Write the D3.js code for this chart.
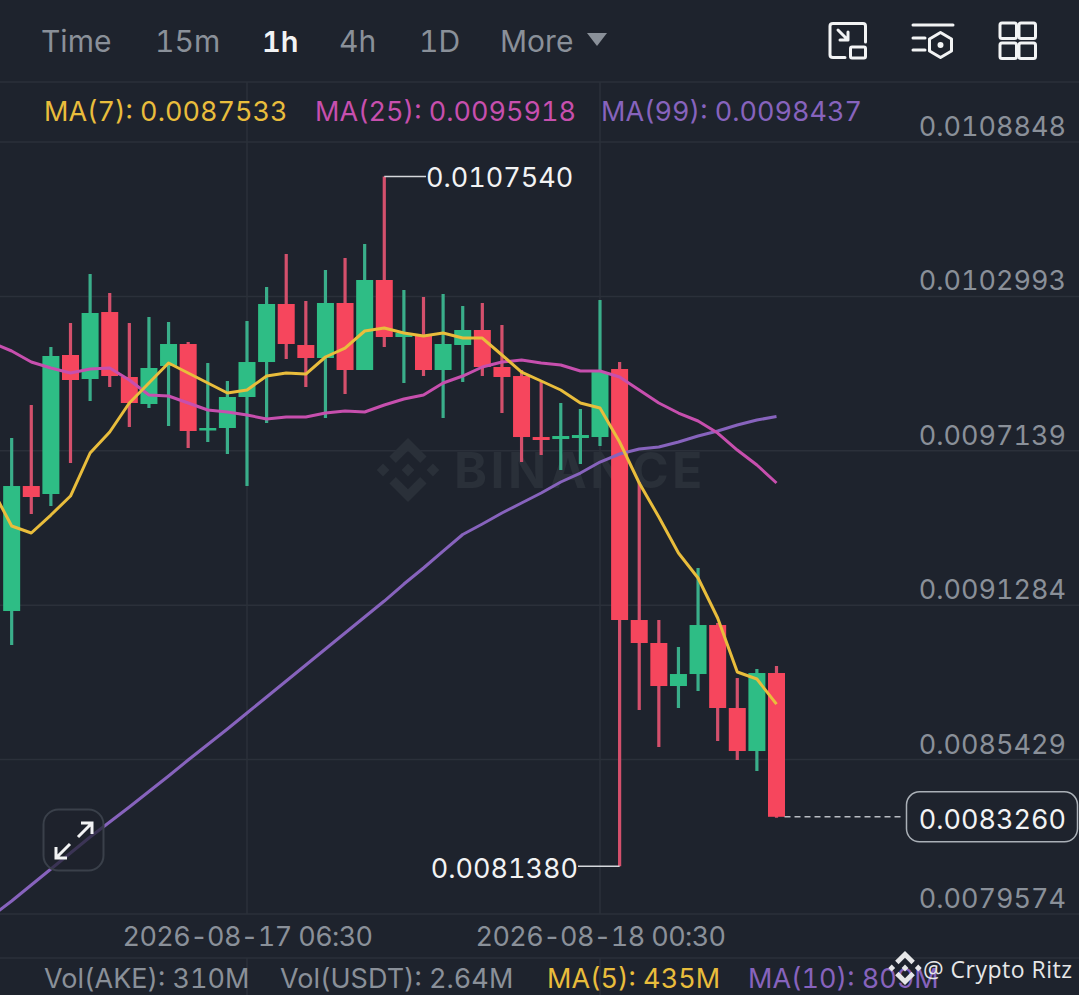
<!DOCTYPE html>
<html>
<head>
<meta charset="utf-8">
<script src="https://cdn.jsdelivr.net/npm/d3@7"></script>
<style>
  html, body { margin: 0; padding: 0; background: #1e232d; overflow: hidden; }
  svg { display: block; font-family: Inter, "Noto Sans", sans-serif; font-variant-numeric: tabular-nums; font-feature-settings: "tnum"; }
  .axis path, .axis line { display: none; }
  .axis text { fill: #8a9099; font-family: Inter, "Noto Sans", sans-serif; font-size: 27px; }
</style>
</head>
<body>
<svg id="chart" width="1079" height="995"></svg>
<script>
// candles, one per hour, first one opens at 2026-08-16 18:30
const firstCandle = "2026-08-16 18:30"
const opens = [0.0091063, 0.0095803, 0.0095500, 0.0100771, 0.0099861, 0.0102401, 0.0099937, 0.0098913, 0.0100354, 0.0101188,
  0.0097927, 0.0098003, 0.0099178, 0.0100505, 0.0102705, 0.0101150, 0.0100657, 0.0102743, 0.0100202, 0.0103615,
  0.0101453, 0.0101491, 0.0100202, 0.0101150, 0.0101719, 0.0100316, 0.0099974, 0.0097661, 0.0097585, 0.0097623,
  0.0097661, 0.0100240, 0.0090722, 0.0089850, 0.0088219, 0.0088674, 0.0090532, 0.0087385, 0.0085754, 0.0088712]
const highs = [0.0097623, 0.0098875, 0.0101074, 0.0101984, 0.0103842, 0.0103122, 0.0101984, 0.0102212, 0.0102022, 0.0101264,
  0.0100467, 0.0099785, 0.0102060, 0.0103349, 0.0104601, 0.0102819, 0.0103994, 0.0104449, 0.0104980, 0.0107540,
  0.0103236, 0.0102970, 0.0103084, 0.0102629, 0.0102743, 0.0101908, 0.0100202, 0.0099747, 0.0098951, 0.0098723,
  0.0102856, 0.0100505, 0.0095955, 0.0090722, 0.0089698, 0.0092694, 0.0090608, 0.0088522, 0.0088864, 0.0088977]
const lows = [0.0089774, 0.0094741, 0.0095045, 0.0096675, 0.0099026, 0.0099557, 0.0098041, 0.0098761, 0.0098078, 0.0097244,
  0.0097472, 0.0097017, 0.0095803, 0.0098192, 0.0100619, 0.0099557, 0.0098382, 0.0099292, 0.0100202, 0.0101074,
  0.0099709, 0.0099974, 0.0098382, 0.0099747, 0.0099974, 0.0098571, 0.0096713, 0.0096979, 0.0096410, 0.0096637,
  0.0097320, 0.0081380, 0.0087309, 0.0085906, 0.0087385, 0.0088029, 0.0086133, 0.0085413, 0.0084996, 0.0083222]
const closes = [0.0095803, 0.0095386, 0.0100733, 0.0099823, 0.0102364, 0.0099974, 0.0098951, 0.0100278, 0.0101188, 0.0097889,
  0.0098003, 0.0099178, 0.0100505, 0.0102705, 0.0101188, 0.0100657, 0.0102743, 0.0100202, 0.0103615, 0.0101453,
  0.0101605, 0.0100202, 0.0101188, 0.0101719, 0.0100316, 0.0099937, 0.0097661, 0.0097548, 0.0097699, 0.0097737,
  0.0100126, 0.0090722, 0.0089850, 0.0088219, 0.0088674, 0.0090532, 0.0087385, 0.0085754, 0.0088712, 0.0083260]

// moving averages, these start one candle earlier (just off the left edge)
const ma7 = [0.0095689, 0.0094286, 0.0094021, 0.0094703, 0.0095424, 0.0097055, 0.0097851, 0.0098951, 0.0099709, 0.0100467, 0.0100088,
  0.0099709, 0.0099330, 0.0099444, 0.0099974, 0.0100088, 0.0100050, 0.0100695, 0.0101036, 0.0101681, 0.0101795,
  0.0101605, 0.0101491, 0.0101605, 0.0101415, 0.0101415, 0.0100771, 0.0100126, 0.0099785, 0.0099444, 0.0098951,
  0.0098761, 0.0097472, 0.0095917, 0.0094628, 0.0093262, 0.0092314, 0.0090798, 0.0088750, 0.0088484, 0.0087533]
const ma25 = [0.0101226, 0.0100923, 0.0100505, 0.0100278, 0.0100088, 0.0100240, 0.0100278, 0.0099823, 0.0099254, 0.0099216, 0.0098951,
  0.0098685, 0.0098609, 0.0098496, 0.0098344, 0.0098420, 0.0098420, 0.0098571, 0.0098647, 0.0098609, 0.0098875,
  0.0099102, 0.0099254, 0.0099709, 0.0099974, 0.0100316, 0.0100505, 0.0100581, 0.0100467, 0.0100392, 0.0100164,
  0.0100164, 0.0099937, 0.0099444, 0.0098951, 0.0098571, 0.0098268, 0.0097813, 0.0097168, 0.0096600, 0.0095918]
const ma99 = [0.0079497, 0.0080066, 0.0080673, 0.0081279, 0.0081886, 0.0082493, 0.0083062, 0.0083631, 0.0084218, 0.0084806, 0.0085413,
  0.0086001, 0.0086588, 0.0087195, 0.0087802, 0.0088409, 0.0089015, 0.0089622, 0.0090229, 0.0090836, 0.0091442,
  0.0092087, 0.0092694, 0.0093338, 0.0093964, 0.0094362, 0.0094779, 0.0095159, 0.0095538, 0.0095955, 0.0096296,
  0.0096713, 0.0097017, 0.0097206, 0.0097282, 0.0097472, 0.0097699, 0.0097889, 0.0098116, 0.0098306, 0.0098437]

const priceTicks = [0.0108848, 0.0102993, 0.0097139, 0.0091284, 0.0085429, 0.0079574]
const timeTicks = ["2026-08-17 06:30", "2026-08-18 00:30"]
const highMark = 0.0107540
const lowMark = 0.0081380
const lastPrice = 0.0083260

const tabLabels = ["Time", "15m", "1h", "4h", "1D", "More"]
const activeTab = "1h"
const maLabels = ["MA(7): 0.0087533", "MA(25): 0.0095918", "MA(99): 0.0098437"]
const volLabels = ["Vol(AKE): 310M", "Vol(USDT): 2.64M", "MA(5): 435M", "MA(10): 809M"]

// layout
const width = 1079
const height = 995
const headerLine = 82
const plotBottom = 914
const footerLine = 958
const tabLeft = [41, 155, 262, 339, 419, 500]
const maLeft = [44, 315, 601]
const volLeft = [44, 280, 547, 748]
const bodyWidth = 17

const colors = {
  grid: '#2b303a', up: '#2ebd85', down: '#f6465d', upWick: '#3aae8a', downWick: '#d4506c',
  yellow: '#e9bd3c', pink: '#c74fae', purple: '#8763bd', muted: '#8a9099', white: '#f2f3f4'
}

const parseTime = d3.timeParse("%Y-%m-%d %H:%M")
const start = parseTime(firstCandle)
const candleTime = i => d3.timeHour.offset(start, i)

const x = d3.scaleTime()
  .domain(timeTicks.map(parseTime))
  .range([247, 600])

const y = d3.scaleLinear()
  .domain([priceTicks[priceTicks.length - 1], priceTicks[0]])
  .range([plotBottom, 142])

const svg = d3.select('#chart')
svg.append('rect').attr('width', width).attr('height', height).attr('fill', '#1e232d')

/**
 * grid and separators
 */
function drawGrid() {
  const g = svg.append('g').attr('stroke', colors.grid).attr('stroke-width', 1.5)
  g.selectAll('.h').data(priceTicks).enter().append('line')
    .attr('x1', 0).attr('x2', width)
    .attr('y1', d => y(d)).attr('y2', d => y(d))
  g.selectAll('.sep').data([headerLine, footerLine]).enter().append('line')
    .attr('x1', 0).attr('x2', width)
    .attr('y1', d => d).attr('y2', d => d)
  g.selectAll('.v').data(timeTicks).enter().append('line')
    .attr('x1', d => x(parseTime(d))).attr('x2', d => x(parseTime(d)))
    .attr('y1', headerLine).attr('y2', plotBottom)
  g.selectAll('.v2').data(timeTicks).enter().append('line')
    .attr('x1', d => x(parseTime(d))).attr('x2', d => x(parseTime(d)))
    .attr('y1', footerLine).attr('y2', height)
}

/**
 * the five diamond logo, centred on cx, cy
 */
function diamondLogo(parent, cx, cy, r, fill) {
  const logo = parent.append('g').attr('transform', `translate(${cx},${cy})`).attr('fill', fill)
  const small = r * 0.2
  const diamond = (dx, dy, s) => logo.append('path')
    .attr('d', `M${dx},${dy - s}L${dx + s},${dy}L${dx},${dy + s}L${dx - s},${dy}Z`)
  diamond(0, 0, small)
  diamond(-r * 0.78, 0, small)
  diamond(r * 0.78, 0, small)
  // upper and lower chevrons
  const c = s => `M0,${s * -r}L${r * 0.58},${s * -r * 0.42}L${r * 0.38},${s * -r * 0.22}L0,${s * -r * 0.6}L${-r * 0.38},${s * -r * 0.22}L${-r * 0.58},${s * -r * 0.42}Z`
  logo.append('path').attr('d', c(1))
  logo.append('path').attr('d', c(-1))
}

function drawWatermark() {
  diamondLogo(svg, 408, 470, 32, '#2a3039')
  svg.append('text')
    .attr('x', 454).attr('y', 488)
    .attr('font-size', 50).attr('font-weight', 700)
    .attr('letter-spacing', 3.4)
    .attr('fill', '#2a3039')
    .text('BINANCE')
}

function drawCandles() {
  const idx = d3.range(opens.length)
  const g = svg.append('g').attr('id', 'candles')
  g.selectAll('line').data(idx).enter().append('line')
    .attr('x1', i => x(candleTime(i))).attr('x2', i => x(candleTime(i)))
    .attr('y1', i => y(highs[i])).attr('y2', i => y(lows[i]))
    .attr('stroke', i => closes[i] >= opens[i] ? colors.upWick : colors.downWick)
    .attr('stroke-width', 3.2)
  g.selectAll('rect').data(idx).enter().append('rect')
    .attr('x', i => x(candleTime(i)) - bodyWidth / 2)
    .attr('width', bodyWidth)
    .attr('y', i => y(Math.max(opens[i], closes[i])))
    .attr('height', i => Math.max(2.5, Math.abs(y(opens[i]) - y(closes[i]))))
    .attr('fill', i => closes[i] >= opens[i] ? colors.up : colors.down)
}

function drawMA(values, color) {
  const line = d3.line()
    .x((d, i) => x(candleTime(i - 1)))
    .y(d => y(d))
  svg.append('path')
    .datum(values)
    .attr('d', line)
    .attr('fill', 'none')
    .attr('stroke', color)
    .attr('stroke-width', 3)
    .attr('stroke-linejoin', 'round')
}

function drawAxes() {
  svg.append('g').attr('class', 'axis')
    .attr('transform', `translate(1066,0)`)
    .call(d3.axisRight(y).tickValues(priceTicks).tickFormat(d3.format('.7f')).tickSize(0).tickPadding(0))
    .selectAll('text')
    .attr('text-anchor', 'end')
    .attr('dy', '-0.24em')

  svg.append('g').attr('class', 'axis')
    .attr('transform', `translate(0,${plotBottom + 13})`)
    .call(d3.axisBottom(x).tickValues(timeTicks.map(parseTime)).tickFormat(d3.timeFormat('%Y-%m-%d %H:%M')).tickSize(0).tickPadding(0))
    .selectAll('text')
    .attr('letter-spacing', -0.6)
}

function drawPriceMarks() {
  const g = svg.append('g')
  const peak = d3.range(highs.length).find(i => highs[i] === highMark)
  const dip = d3.range(lows.length).find(i => lows[i] === lowMark)
  const last = opens.length - 1
  const fmt = d3.format('.7f')

  g.append('path')
    .attr('d', `M${x(candleTime(peak))},${y(highMark)}H426`)
    .attr('stroke', '#d5d8dc').attr('stroke-width', 1.5).attr('fill', 'none')
  g.append('text').attr('x', 426).attr('y', y(highMark) + 11)
    .attr('font-size', 27).attr('fill', colors.white).text(fmt(highMark))

  g.append('path')
    .attr('d', `M${x(candleTime(dip))},${y(lowMark)}H578`)
    .attr('stroke', '#d5d8dc').attr('stroke-width', 1.5).attr('fill', 'none')
  g.append('text').attr('x', 578).attr('y', y(lowMark) + 12)
    .attr('text-anchor', 'end')
    .attr('font-size', 27).attr('fill', colors.white).text(fmt(lowMark))

  // last price with dashed leader
  g.append('line')
    .attr('x1', x(candleTime(last)) + 8).attr('x2', 903)
    .attr('y1', y(lastPrice)).attr('y2', y(lastPrice))
    .attr('stroke', '#b9bdc3').attr('stroke-width', 1.5)
    .attr('stroke-dasharray', '6 4')
  g.append('rect')
    .attr('x', 906.5).attr('y', y(lastPrice) - 25)
    .attr('width', 171).attr('height', 50).attr('rx', 13)
    .attr('fill', '#1e232d').attr('stroke', '#aab0b7').attr('stroke-width', 1.5)
  g.append('text').attr('x', 1066).attr('y', y(lastPrice) + 12)
    .attr('text-anchor', 'end')
    .attr('font-size', 27).attr('fill', colors.white).text(fmt(lastPrice))
}

function drawHeader() {
  svg.append('g').selectAll('text').data(tabLabels).enter().append('text')
    .attr('x', (d, i) => tabLeft[i]).attr('y', 52)
    .attr('font-size', d => d === activeTab ? 29 : 30)
    .attr('font-weight', d => d === activeTab ? 600 : 400)
    .attr('fill', d => d === activeTab ? colors.white : colors.muted)
    .text(d => d)
  svg.append('path').attr('d', 'M587,33H607L597,46Z').attr('fill', colors.muted)

  const maColors = [colors.yellow, colors.pink, colors.purple]
  svg.append('g').selectAll('text').data(maLabels).enter().append('text')
    .attr('x', (d, i) => maLeft[i]).attr('y', 121)
    .attr('font-size', 27)
    .attr('fill', (d, i) => maColors[i])
    .text(d => d)
}

function drawFooter() {
  const volColors = [colors.muted, colors.muted, colors.yellow, colors.purple]
  svg.append('g').selectAll('text').data(volLabels).enter().append('text')
    .attr('x', (d, i) => volLeft[i]).attr('y', 988)
    .attr('font-size', 27)
    .attr('fill', (d, i) => volColors[i])
    .text(d => d)

  // photo credit stamped on top
  diamondLogo(svg, 905, 968, 17, '#e6e7e8')
  svg.append('text')
    .attr('x', 923).attr('y', 978)
    .attr('font-family', '"Open Sans"')
    .attr('font-size', 23)
    .attr('letter-spacing', 0.5)
    .attr('fill', '#e6e7e8')
    .text('@ Crypto Ritz')
}

function drawIcons() {
  const g = svg.append('g')
    .attr('fill', 'none').attr('stroke', '#f2f3f4').attr('stroke-width', 3)
    .attr('stroke-linecap', 'round').attr('stroke-linejoin', 'round')
  // picture in picture
  g.append('path').attr('d', 'M845,57.5H833Q830,57.5 830,55V26Q830,23.5 833,23.5H863Q865.5,23.5 865.5,26V42')
  g.append('rect').attr('x', 850.5).attr('y', 47).attr('width', 15).attr('height', 11).attr('rx', 1.5)
  g.append('path').attr('d', 'M838,30L848,40M848,32V40H840')
  // settings
  g.append('path').attr('d', 'M913,25H953M913,38H925M913,50H925')
  g.append('path').attr('d', 'M940.5,32.5L951.5,39V51L940.5,57.5L929.5,51V39Z')
  g.append('circle').attr('cx', 940.5).attr('cy', 45).attr('r', 1.5)
  // grid
  const cells = [[1000, 23], [1019, 23], [1000, 43], [1019, 43]]
  g.selectAll('rect.cell').data(cells).enter().append('rect')
    .attr('class', 'cell')
    .attr('x', d => d[0]).attr('y', d => d[1])
    .attr('width', 16.5).attr('height', 15.5).attr('rx', 2)
}

function drawExpandButton() {
  svg.append('rect')
    .attr('x', 43.5).attr('y', 809.5).attr('width', 60).attr('height', 61).attr('rx', 15)
    .attr('fill', '#1e232d').attr('fill-opacity', 0.72)
    .attr('stroke', '#3a404a').attr('stroke-width', 2)
  svg.append('path')
    .attr('d', 'M78,837L92,823M81,823H92V834M70,844L56,858M56,847V858H67')
    .attr('fill', 'none').attr('stroke', '#f2f3f4').attr('stroke-width', 3)
}

drawGrid()
drawWatermark()
drawCandles()
drawMA(ma99, colors.purple)
drawMA(ma25, colors.pink)
drawMA(ma7, colors.yellow)
drawAxes()
drawPriceMarks()
drawHeader()
drawFooter()
drawIcons()
drawExpandButton()
</script>
</body>
</html>
